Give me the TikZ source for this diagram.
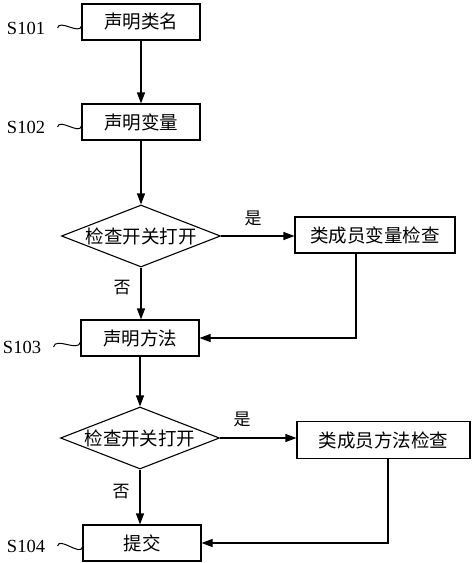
\documentclass[tikz,border=0pt]{standalone}
\usepackage{fontspec}
\setmainfont{Liberation Serif}
\newfontfamily\cjk{Noto Sans CJK SC}
\usetikzlibrary{shapes.geometric,arrows.meta}
\begin{document}
\begin{tikzpicture}[x=1pt,y=-1pt,
  every node/.style={font=\cjk\fontsize{18.5}{20}\selectfont},
  box/.style={draw,line width=1.1pt,minimum width=118pt,minimum height=36pt,inner sep=0pt},
  dia/.style={draw,diamond,line width=1.1pt,minimum width=159pt,minimum height=62pt,inner sep=0pt},
  steplbl/.style={font=\fontsize{18.5}{20}\selectfont},
  arr/.style={line width=1.1pt,-{Triangle[length=11pt,width=8pt]}},
  squig/.style={line width=1pt},
  ynlbl/.style={font=\cjk\fontsize{17}{18}\selectfont}]
\useasboundingbox (0,0) rectangle (474,563);
% main column
\node[box] (b1) at (141,22) {声明类名};
\node[box] (b2) at (141,122) {声明变量};
\node[dia,label=center:{检查开关打开}] (d1) at (141,236) {};
\node[box,minimum width=160pt] (r1) at (375,235) {类成员变量检查};
\node[box] (b3) at (140,338) {声明方法};
\node[dia,label=center:{检查开关打开}] (d2) at (140,438) {};
\node[box,minimum width=173pt,minimum height=37pt] (r2) at (383.5,440) {类成员方法检查};
\node[box] (b4) at (142,543) {提交};
% step labels
\node[steplbl] (s1) at (26,28) {S101};
\node[steplbl] (s2) at (26,127) {S102};
\node[steplbl] (s3) at (22,347) {S103};
\node[steplbl] (s4) at (26,546) {S104};
% squiggles
\draw[squig] ([xshift=9pt]s1.east) to[out=80,in=-100] ([yshift=-4pt]b1.west);
\draw[squig] ([xshift=9pt]s2.east) to[out=80,in=-100] ([yshift=-4pt]b2.west);
\draw[squig] ([xshift=9pt]s3.east) to[out=80,in=-100] ([yshift=-4pt]b3.west);
\draw[squig] ([xshift=9pt]s4.east) to[out=80,in=-100] ([yshift=-4pt]b4.west);
% yes / no labels
\node[ynlbl] (y1) at (253,218) {是};
\node[ynlbl] (n1) at (122,288) {否};
\node[ynlbl] (y2) at (242,419) {是};
\node[ynlbl] (n2) at (121,492) {否};
% connectors
\draw[arr] (b1) -- (b2);
\draw[arr] (b2) -- (d1);
\draw[arr] (d1.east) -- (r1.west |- d1.east);
\draw[arr] (d1.south) -- (b3.north -| d1.south);
\draw[arr] ([xshift=-19pt]r1.south) |- (b3.east);
\draw[arr] (b3) -- (d2);
\draw[arr] (d2.east) -- (r2.west |- d2.east);
\draw[arr] (d2) -- (b4.north -| d2.south);
\draw[arr] ([xshift=4.5pt]r2.south) |- (b4.east);
\end{tikzpicture}
\end{document}
